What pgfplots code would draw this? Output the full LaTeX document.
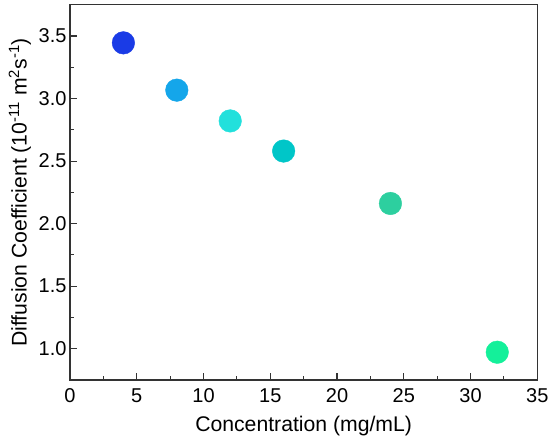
\documentclass[border=0pt]{standalone}
\usepackage{pgfplots}
\pgfplotsset{compat=1.18}
\usepackage{fontspec}
\setmainfont{Liberation Sans}

\definecolor{c1}{HTML}{1A3BE6}
\definecolor{c2}{HTML}{14A6EA}
\definecolor{c3}{HTML}{22E0DC}
\definecolor{c4}{HTML}{00C6C8}
\definecolor{c5}{HTML}{2DCF9F}
\definecolor{c6}{HTML}{14F09A}
\definecolor{axgray}{HTML}{333333}

\begin{document}
\begin{tikzpicture}
	\begin{axis}[
		name=ax,
		scale only axis,
		width=467.3pt, height=375.3pt,
		xmin=0, xmax=35, ymin=0.75, ymax=3.75,
		xtick={0,5,...,35}, ytick={1.0,1.5,...,3.5},
		minor x tick num=1, minor y tick num=1,
		tick align=inside,
		xtick pos=bottom, ytick pos=left,
		major tick length=7pt, minor tick length=3.8pt,
		axis line style={axgray, line width=1.3pt},
		every tick/.style={axgray, line width=1.1pt},
		tick label style={font=\fontsize{20}{22}\selectfont},
		/pgf/number format/assume math mode=true,
		xticklabel style={yshift=-5pt},
		yticklabel style={/pgf/number format/.cd, fixed, fixed zerofill, precision=1},
		xlabel={Concentration (mg/mL)},
		ylabel={Diffusion Coefficient (10\textsuperscript{-11} m\textsuperscript{2}s\textsuperscript{-1})},
		xlabel style={font=\fontsize{21.2}{23}\selectfont,
			at={([yshift=-51.7pt]axis description cs:0.5,0)}, anchor=base},
		ylabel style={font=\fontsize{21.2}{23}\selectfont,
			at={([xshift=-43.3pt]axis description cs:0,0.5)}, anchor=base, rotate=0},
		scatter/classes={
			a={mark=*, mark size=11.3pt, c1, draw=none},
			b={mark=*, mark size=11.3pt, c2, draw=none},
			c={mark=*, mark size=11.3pt, c3, draw=none},
			d={mark=*, mark size=11.3pt, c4, draw=none},
			e={mark=*, mark size=11.3pt, c5, draw=none},
			f={mark=*, mark size=11.3pt, c6, draw=none}
		}
	]
		\addplot[scatter, only marks, scatter src=explicit symbolic]
		table[meta=label] {
			x y label
			4 3.445 a
			8 3.067 b
			12 2.821 c
			16 2.580 d
			24 2.161 e
			32 0.972 f
		};
	\end{axis}
	\pgfresetboundingbox
	\path ([xshift=-70pt,yshift=-59pt]ax.south west) rectangle ([xshift=12.7pt,yshift=4.7pt]ax.north east);
\end{tikzpicture}
\end{document}
